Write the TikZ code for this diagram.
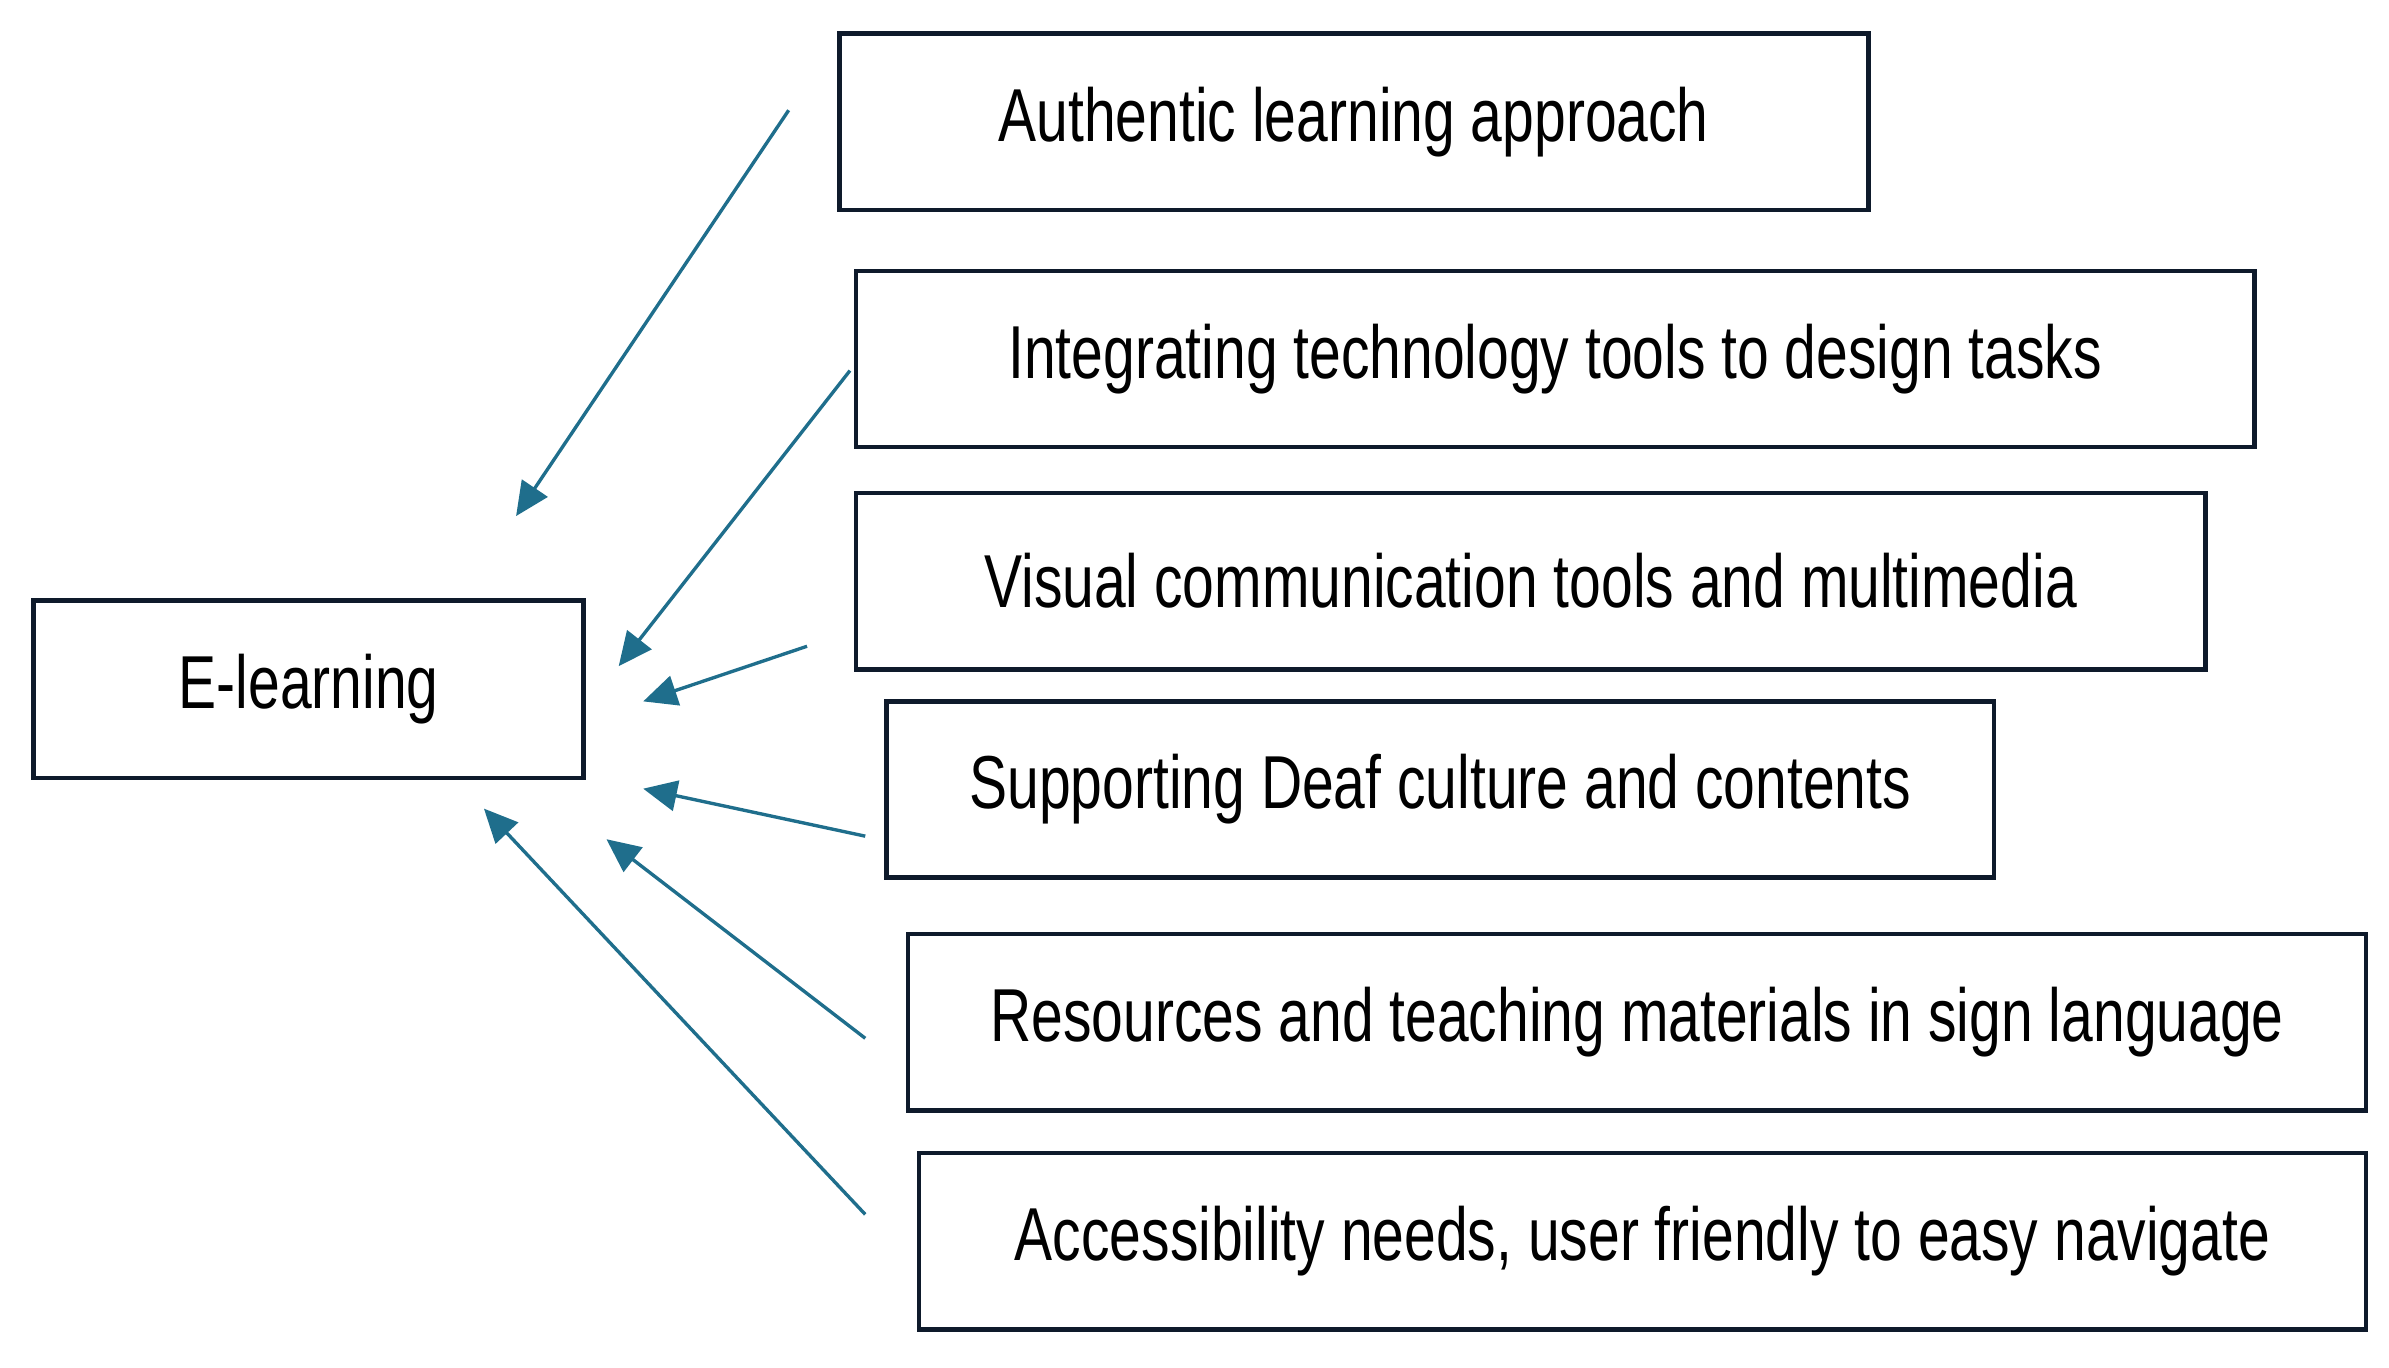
\documentclass[tikz,border=0pt]{standalone}
\usepackage{fontspec}
\setmainfont{Liberation Sans}[FakeStretch=0.76]
\usetikzlibrary{arrows.meta}
\definecolor{arr}{HTML}{1F6E8C}
\definecolor{edge}{HTML}{0E1A2B}
\begin{document}
\begin{tikzpicture}[x=1pt,y=-1pt,
  box/.style={draw=edge,line width=3pt,inner sep=0pt,font=\fontsize{49}{55}\selectfont},
  con/.style={draw=arr,line width=2.2pt,-{Triangle[length=22pt,width=20pt]}}]
\useasboundingbox (0,0) rectangle (1560,893);
\newcommand{\bx}[6]{\node[box,minimum width={#4-#2},minimum height={#5-#3}] (#1) at ({(#2+#4)/2},{(#3+#5)/2}) {#6};}
\bx{el}{22}{392}{381}{508}{E-learning}
\bx{b1}{548}{22}{1220}{137}{Authentic learning approach}
\bx{b2}{559}{177}{1472}{292}{Integrating technology tools to design tasks}
\bx{b3}{559}{322}{1440}{437}{Visual communication tools and multimedia}
\bx{b4}{579}{458}{1302}{573}{Supporting Deaf culture and contents}
\bx{b5}{593}{610}{1545}{725}{Resources and teaching materials in sign language}
\bx{b6}{600}{753}{1545}{868}{Accessibility needs, user friendly to easy navigate}
\coordinate (s1) at (515,72);  \coordinate (t1) at (337,337);
\coordinate (s2) at (555,242); \coordinate (t2) at (404,435);
\coordinate (s3) at (527,422); \coordinate (t3) at (420,458);
\coordinate (s4) at (565,546); \coordinate (t4) at (420,515);
\coordinate (s5) at (565,678); \coordinate (t5) at (396,548);
\coordinate (s6) at (565,793); \coordinate (t6) at (316,528);
\foreach \i in {1,...,6} \draw[con] (s\i) -- (t\i);
\end{tikzpicture}
\end{document}
